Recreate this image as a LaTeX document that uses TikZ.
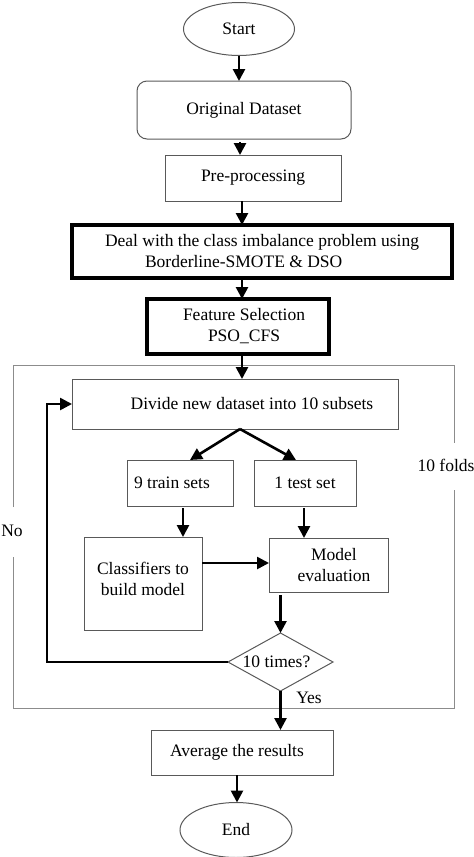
\documentclass[tikz,border=0pt]{standalone}
\usepackage{fontspec}
\setmainfont{Liberation Serif}
\usetikzlibrary{shapes.geometric,arrows.meta}
\begin{document}
\begin{tikzpicture}[x=1pt,y=-1pt,
  every node/.style={font=\fontsize{17.5}{21}\selectfont, inner sep=0pt, outer sep=0pt},
  box/.style={draw=black!65, line width=1pt, rectangle},
  heavybox/.style={draw=black, line width=4pt, rectangle},
  oval/.style={draw=black!65, line width=1pt, ellipse},
  arr/.style={line width=2.6pt, -{Triangle[length=12pt,width=12pt]}},
  frame/.style={draw=black!45, line width=1pt}]
\useasboundingbox (0,0) rectangle (474,857);

% outer frame with gaps for labels
\draw[frame] (13,507) -- (13,365) -- (454,365) -- (454,443);
\draw[frame] (454,490) -- (454,708) -- (13,708) -- (13,557);
\node (no) at (12,531) {No};
\node (folds) at (446,465) {10 folds};

\node[oval, minimum width=111pt, minimum height=53pt] (start) at (239,29) {Start};
\node[box, rounded corners=10pt, minimum width=214pt, minimum height=58pt] (orig) at (244,110) {Original Dataset};
\node[box, minimum width=176pt, minimum height=46pt] (pre) at (253,178) {Pre-processing};
\node[heavybox, minimum width=380pt, minimum height=53pt, align=left] (deal) at (262,251.5)
  {Deal with the class imbalance problem using\\\hspace*{40pt}Borderline-SMOTE \& DSO};
\node[heavybox, minimum width=182pt, minimum height=55pt, align=center] (feat) at (238,326.5)
  {\hspace*{12pt}Feature Selection\\\hspace*{12pt}PSO\_CFS};
\node[box, minimum width=326pt, minimum height=50pt] (div) at (235,404)
  {\hspace*{34pt}Divide new dataset into 10 subsets};
\node[box, minimum width=106pt, minimum height=46pt] (train) at (180,483) {9 train sets\hspace*{16pt}};
\node[box, minimum width=102pt, minimum height=46pt] (test) at (305,483) {1 test set};
\node[box, minimum width=118pt, minimum height=93pt, align=center] (cls) at (143,583.5)
  {Classifiers to\\build model\\[-12pt]};
\node[box, minimum width=119pt, minimum height=54pt, align=center] (eval) at (328.5,565)
  {\hspace*{11pt}Model\\\hspace*{11pt}evaluation};
\node[draw=black!65, line width=1pt, diamond, aspect=1.81, minimum width=105pt, minimum height=58pt] (dec) at (280.5,662)
  {10 times?\hspace*{8pt}};
\node (yes) at (309,698) {Yes};
\node[box, minimum width=182pt, minimum height=45pt] (avg) at (242,752.5) {Average the results\hspace*{10pt}};
\node[oval, minimum width=112pt, minimum height=55pt] (end) at (236,830) {End};

% connectors
\draw[arr] (start.south) -- (start.south |- orig.north);
\coordinate (o1) at ([xshift=-4pt,yshift=-3pt]orig.south);
\draw[arr] (o1) -- (o1 |- pre.north);
\coordinate (p1) at ([xshift=-11pt]pre.south);
\draw[arr] (p1) -- (p1 |- deal.north);
\coordinate (d1) at ([xshift=-20pt]deal.south);
\draw[arr] (d1) -- (d1 |- feat.north);
\coordinate (f1) at ([xshift=4pt]feat.south);
\draw[arr] (f1) -- (f1 |- div.north);
\coordinate (v1) at ([xshift=5pt]div.south);
\draw[arr] (v1) -- ([xshift=10pt]train.north);
\draw[arr] (v1) -- ([xshift=-9pt]test.north);
\coordinate (t1) at ([xshift=3pt,yshift=-2pt]train.south);
\draw[arr] (t1) -- (t1 |- cls.north);
\coordinate (t2) at ([xshift=-1pt,yshift=-2pt]test.south);
\draw[arr] (t2) -- (t2 |- eval.north);
\coordinate (c1) at ([yshift=20.5pt]cls.east);
\draw[arr] (c1) -- (c1 -| eval.west);
\coordinate (e1) at ([yshift=-3pt]dec.north |- eval.south);
\draw[arr] (e1) -- (dec.north);
\draw[arr] (dec.west) -- ++(-181,0) |- (div.west);
\draw[arr] (dec.south) -- (dec.south |- avg.north);
\coordinate (a1) at ([xshift=-5pt]avg.south);
\draw[arr] (a1) -- (a1 |- end.north);
\end{tikzpicture}
\end{document}
